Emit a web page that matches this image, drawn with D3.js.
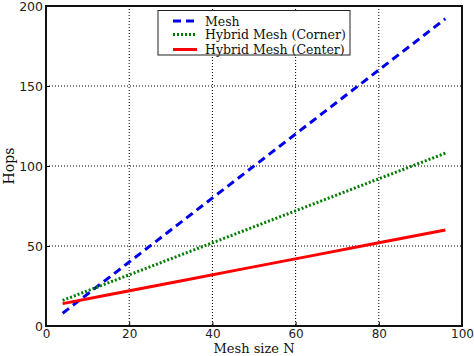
<!DOCTYPE html>
<html><head><meta charset="utf-8">
<script src="https://cdn.jsdelivr.net/npm/d3@7"></script>
<style>body{margin:0;background:#fff}svg{display:block}</style>
</head><body>
<svg id="c" width="474" height="356"></svg>
<script>
const meshSize = [4, 16, 32, 48, 64, 80, 96];
const meshHops = [8, 32, 64, 96, 128, 160, 192];
const cornerHops = [16, 28, 44, 60, 76, 92, 108];
const centerHops = [14, 20, 28, 36, 44, 52, 60];
const xTicks = [0, 20, 40, 60, 80, 100];
const yTicks = [0, 50, 100, 150, 200];
const seriesNames = ["Mesh", "Hybrid Mesh (Corner)", "Hybrid Mesh (Center)"];

const svg = d3.select("#c");
const L = 46, R = 462, T = 6, B = 326;
const x = d3.scaleLinear().domain([0, 100]).range([L, R]);
const y = d3.scaleLinear().domain([0, 200]).range([B, T]);

// grid
const g = svg.append("g");
g.selectAll(".gx").data(xTicks.slice(1, -1)).enter().append("line")
  .attr("x1", d => x(d)).attr("x2", d => x(d)).attr("y1", T).attr("y2", B)
  .attr("stroke", "#000").attr("stroke-width", 1).attr("stroke-dasharray", "1,2");
g.selectAll(".gy").data(yTicks.slice(1, -1)).enter().append("line")
  .attr("y1", d => y(d)).attr("y2", d => y(d)).attr("x1", L).attr("x2", R)
  .attr("stroke", "#000").attr("stroke-width", 1).attr("stroke-dasharray", "1,2");

// axes (ticks inside)
const xa = svg.append("g").attr("transform", `translate(0,${B})`)
  .call(d3.axisBottom(x).tickValues(xTicks).tickSize(-4).tickPadding(3).tickFormat(d3.format("d")));
const ya = svg.append("g").attr("transform", `translate(${L},0)`)
  .call(d3.axisLeft(y).tickValues(yTicks).tickSize(-4).tickPadding(3).tickFormat(d3.format("d")));
[xa, ya].forEach(a => {
  a.select(".domain").remove();
  a.selectAll("text").attr("font-family", "DejaVu Sans").attr("font-size", 12.5).attr("fill", "#222");
  a.selectAll(".tick line").attr("stroke", "#000");
});
xa.selectAll("text").attr("font-size", 12).attr("dy", "0.71em");

// lines
const line = d3.line().x((d, i) => x(meshSize[i])).y(d => y(d));
const series = [
  {v: meshHops, c: "#0000ee", dash: "8,5"},
  {v: cornerHops, c: "#007a00", dash: "2,2"},
  {v: centerHops, c: "#ff0000", dash: null}
];
series.forEach(s => {
  svg.append("path").datum(s.v).attr("d", line).attr("fill", "none")
    .attr("stroke", s.c).attr("stroke-width", 3)
    .attr("stroke-dasharray", s.dash);
});

// frame
svg.append("rect").attr("x", L).attr("y", T).attr("width", R - L).attr("height", B - T)
  .attr("fill", "none").attr("stroke", "#111").attr("stroke-width", 2);

// legend
const lg = svg.append("g");
lg.append("rect").attr("x", 158).attr("y", 10.5).attr("width", 192).attr("height", 44.5)
  .attr("fill", "#fff").attr("stroke", "#222").attr("stroke-width", 1);
const ly = [21, 34.5, 49.5];
series.forEach((s, i) => {
  lg.append("line").attr("x1", 173).attr("x2", 197).attr("y1", ly[i]).attr("y2", ly[i])
    .attr("stroke", s.c).attr("stroke-width", 3).attr("stroke-dasharray", s.dash);
  lg.append("text").attr("x", 205).attr("y", ly[i] + 4.5).text(seriesNames[i])
    .attr("font-family", "DejaVu Serif").attr("font-size", 12.5).attr("fill", "#111");
});

// axis labels
svg.append("text").attr("x", 254).attr("y", 353).attr("text-anchor", "middle")
  .attr("font-family", "DejaVu Serif").attr("font-size", 13).attr("fill", "#111").text("Mesh size N");
svg.append("text").attr("transform", "translate(14,166) rotate(-90)").attr("text-anchor", "middle")
  .attr("font-family", "DejaVu Serif").attr("font-size", 14).attr("fill", "#111").text("Hops");
</script>
</body></html>
